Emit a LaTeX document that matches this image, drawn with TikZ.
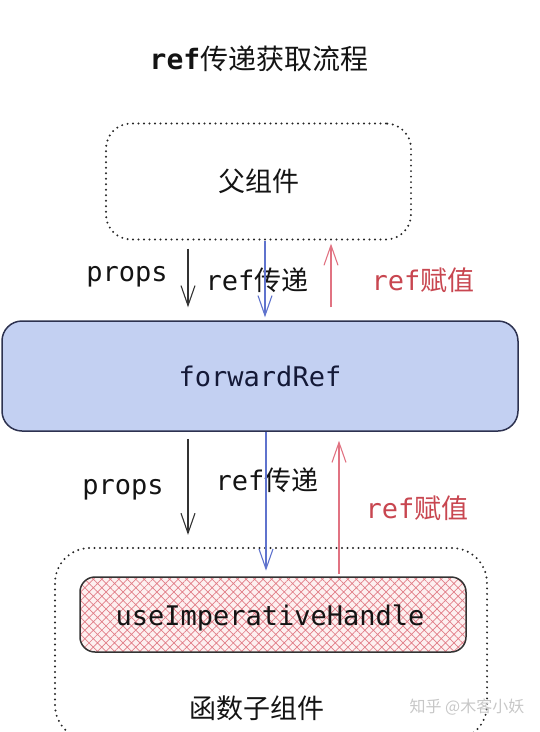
\documentclass[tikz,border=0pt]{standalone}
\usepackage{fontspec}
\setmonofont{DejaVu Sans Mono}
\newfontfamily\cjk{Noto Sans CJK SC}
\usetikzlibrary{arrows.meta,patterns.meta}
\definecolor{refblue}{RGB}{95,115,205}
\definecolor{refred}{RGB}{225,115,130}
\definecolor{redtext}{RGB}{200,70,80}
\definecolor{fwdfill}{RGB}{195,208,242}
\definecolor{fwdline}{RGB}{45,50,80}
\definecolor{fwdtext}{RGB}{20,25,55}
\definecolor{hookline}{RGB}{225,125,135}
\definecolor{hookbg}{RGB}{253,240,240}
\begin{document}
\begin{tikzpicture}[x=1pt,y=-1pt,
	every node/.style={font=\fontsize{27}{31}\selectfont, text=black!92},
	dotbox/.style={draw=black!85, line width=2.2pt, dash pattern=on 0pt off 5.5pt, line cap=round},
	arr/.style={line width=1.1pt, -{Straight Barb[length=20pt,width=14pt]}},
	lbl/.style={inner sep=0pt}]
		\useasboundingbox (0,0) rectangle (539,732);
		\coordinate (xprops) at (188,0); \coordinate (xpass) at (265,0); \coordinate (xset) at (331,0);
		\coordinate (xpassb) at (266,0); \coordinate (xsetb) at (339,0);
		\node[lbl, font=\fontsize{28}{32}\selectfont] (title) at (259,59) {{\ttfamily\bfseries ref}{\cjk 传递获取流程}}; % title
		\node[dotbox, rounded corners=25pt, minimum width=305pt, minimum height=116pt] (parent) at (258.5,181.5) {\cjk 父组件}; % parent
		\node[draw=fwdline, fill=fwdfill, line width=1.5pt, rounded corners=20pt, minimum width=516pt, minimum height=110pt, text=fwdtext] (fwd) at (260,376) {\ttfamily forwardRef}; % forwardRef
		\node[dotbox, rounded corners=35pt, minimum width=432pt, minimum height=192pt] (child) at (271,644) {}; % child
		\node[draw=black!80, line width=1.5pt, rounded corners=15pt, minimum width=386pt, minimum height=75pt,
			preaction={fill=hookbg}, pattern={Hatch[angle=45,distance=6pt,line width=0.7pt]}, pattern color=hookline] (hook) at (273,614.5) {}; % hook
		\node[lbl] (hooklabel) at (270,618) {\ttfamily useImperativeHandle};
		\node[lbl] (childlabel) at (257,708) {\cjk 函数子组件};
		\node[lbl, font=\fontsize{16}{18}\selectfont, text=black!22] (mark) at (467,707) {\cjk 知乎 @木客小妖}; % watermark
		% upper labels
		\node[lbl] (propsa) at (127,277) {\ttfamily props};
		\node[lbl] (passa) at (257,280) {{\ttfamily ref}{\cjk 传递}};
		\node[lbl, text=redtext] (seta) at (423,280) {{\ttfamily ref}{\cjk 赋值}};
		% lower labels
		\node[lbl] (propsb) at (123,490) {\ttfamily props};
		\node[lbl] (passb) at (267,480) {{\ttfamily ref}{\cjk 传递}};
		\node[lbl, text=redtext] (setb) at (417,508) {{\ttfamily ref}{\cjk 赋值}};
		% parent -> forwardRef
		\draw[arr, black!80, shorten <=8pt, shorten >=13pt] (parent.south -| xprops) -- (fwd.north -| xprops);
		\draw[arr, refblue, shorten >=3pt] (parent.south -| xpass) -- (fwd.north -| xpass);
		\draw[arr, refred, shorten <=13pt, shorten >=3pt] (fwd.north -| xset) -- (parent.south -| xset);
		% forwardRef -> child
		\draw[arr, black!80, shorten <=7pt, shorten >=12pt] (fwd.south -| xprops) -- (child.north -| xprops);
		\draw[arr, refblue, shorten >=6pt] (fwd.south -| xpassb) -- (hook.north -| xpassb);
		\draw[arr, refred, shorten <=3pt, shorten >=9pt] (hook.north -| xsetb) -- (fwd.south -| xsetb);
\end{tikzpicture}
\end{document}
